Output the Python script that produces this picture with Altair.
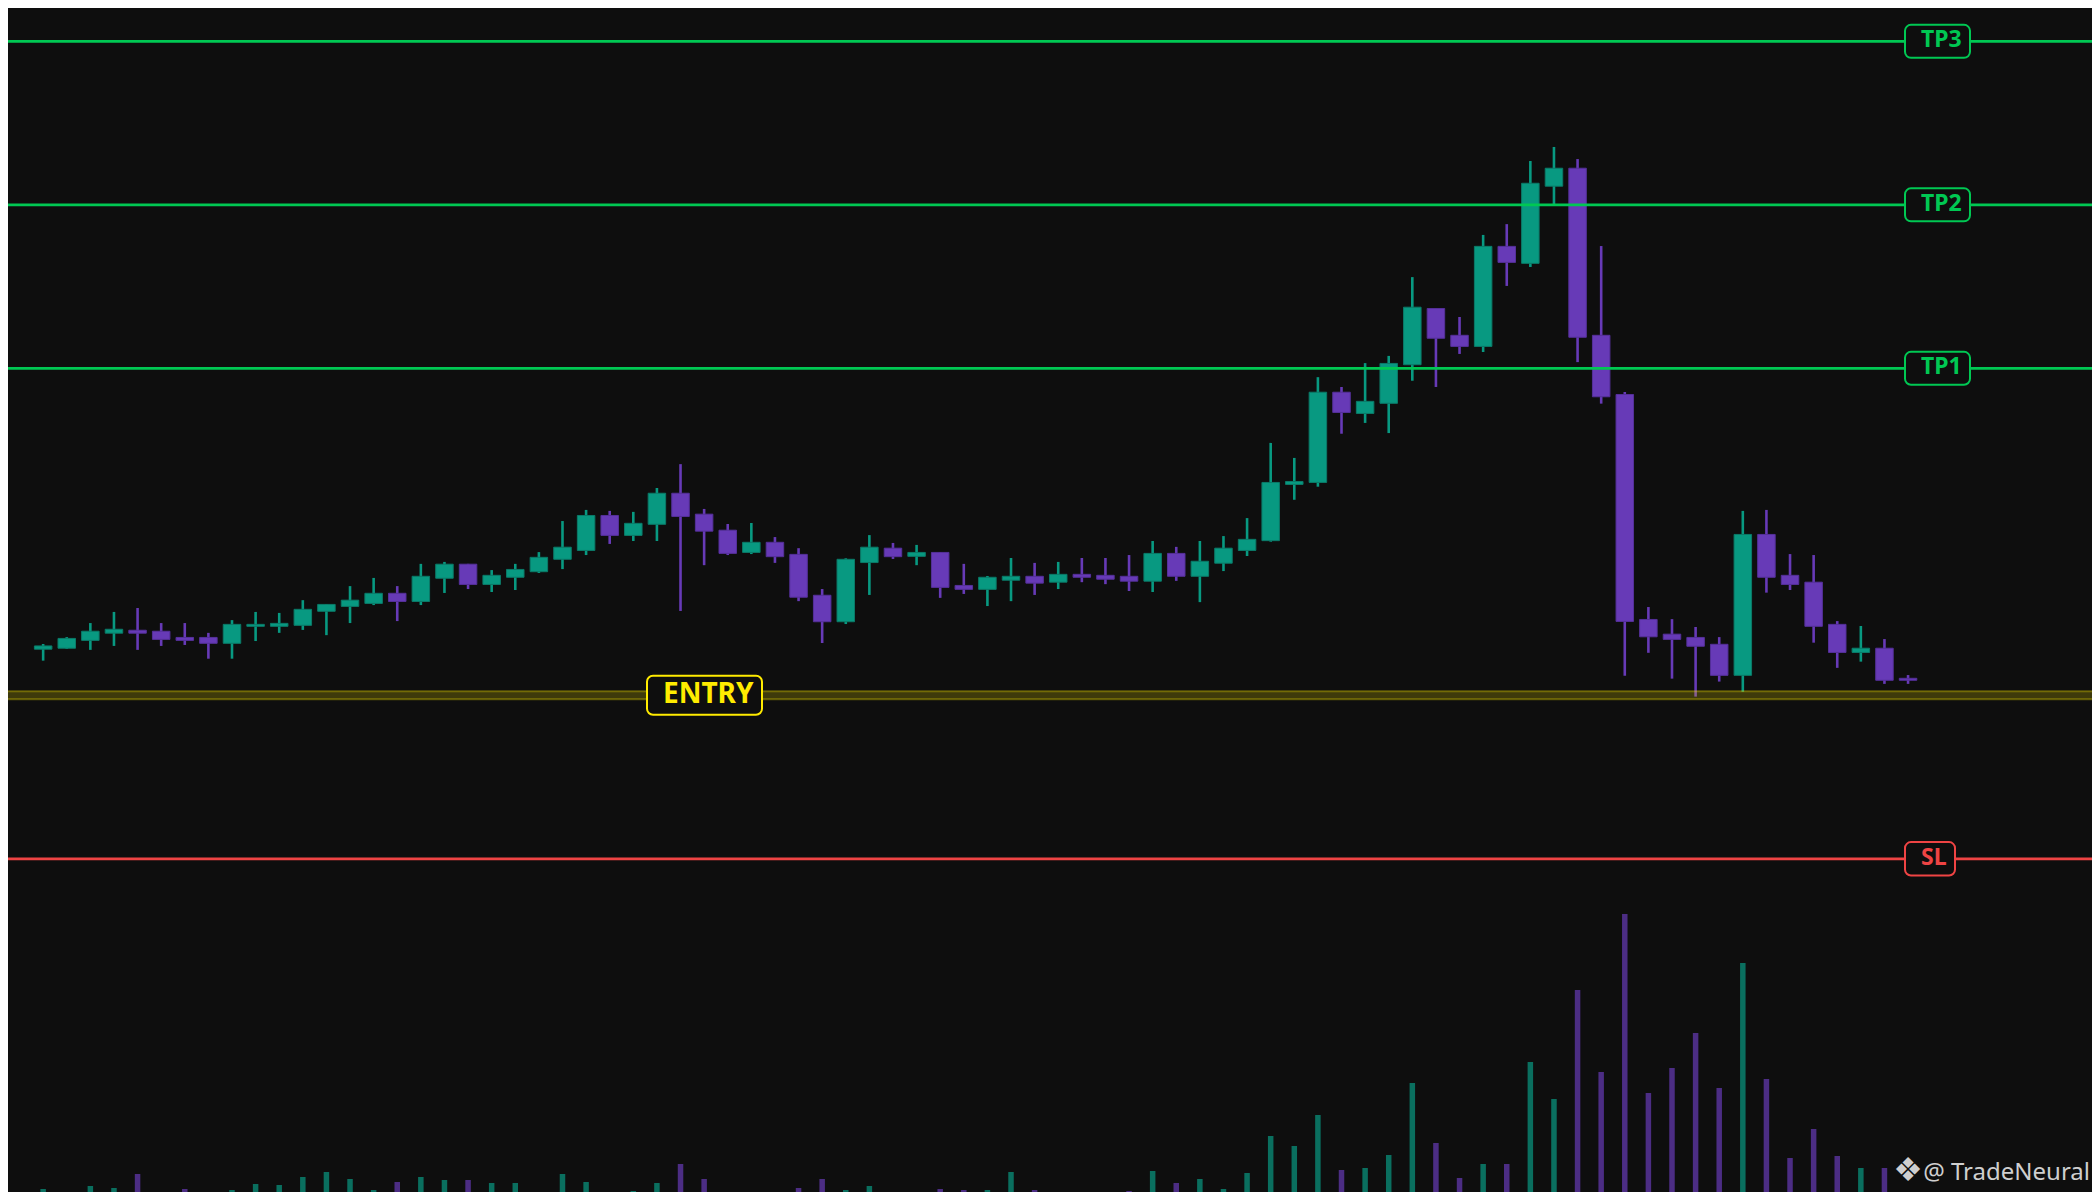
import altair as alt
import pandas as pd

# ---- candles (price units; entry = 100, 1R = 5) ----
open_ = [101.41, 101.44, 101.68, 101.90, 101.99, 101.96, 101.77, 101.77, 101.59, 102.11,
         102.11, 102.14, 102.57, 102.72, 102.81, 103.12, 102.87, 103.58, 104.01, 103.39,
         103.61, 103.78, 104.16, 104.43, 105.50, 104.89, 105.23, 106.18, 105.54, 105.05,
         104.37, 104.68, 104.31, 103.06, 102.25, 104.06, 104.50, 104.25, 104.37, 103.36,
         103.24, 103.52, 103.64, 103.46, 103.70, 103.67, 103.64, 103.49, 104.34, 103.64,
         104.04, 104.43, 104.73, 106.45, 106.51, 109.27, 108.62, 108.93, 110.11, 111.83,
         111.01, 110.67, 113.73, 113.21, 115.57, 116.12, 111.01, 109.20, 102.32, 101.87,
         101.77, 101.56, 100.61, 104.92, 103.67, 103.46, 102.17, 101.31, 101.44, 100.52]
high = [101.57, 101.78, 102.21, 102.55, 102.67, 102.21, 102.21, 101.91, 102.30, 102.55,
        102.52, 102.91, 102.79, 103.34, 103.59, 103.34, 104.02, 104.08, 104.02, 103.83,
        104.02, 104.38, 105.33, 105.67, 105.64, 105.61, 106.34, 107.07, 105.70, 105.24,
        105.27, 104.84, 104.50, 103.25, 104.19, 104.90, 104.66, 104.60, 104.38, 104.02,
        103.65, 104.20, 104.05, 104.08, 104.20, 104.20, 104.29, 104.72, 104.54, 104.72,
        104.87, 105.42, 107.72, 107.26, 109.73, 109.43, 110.16, 110.38, 112.79, 111.83,
        111.57, 114.08, 114.41, 116.34, 116.77, 116.40, 113.74, 109.28, 102.70, 102.33,
        102.09, 101.78, 105.64, 105.67, 104.32, 104.29, 102.27, 102.12, 101.72, 100.62]
low = [101.06, 101.42, 101.39, 101.51, 101.39, 101.51, 101.54, 101.12, 101.12, 101.66,
       101.91, 102.00, 101.84, 102.21, 102.76, 102.27, 102.76, 103.13, 103.25, 103.16,
       103.22, 103.74, 103.86, 104.29, 104.63, 104.72, 104.72, 102.58, 103.98, 104.29,
       104.32, 104.05, 102.88, 101.60, 102.18, 103.07, 104.17, 103.98, 102.98, 103.10,
       102.73, 102.88, 103.07, 103.25, 103.46, 103.40, 103.19, 103.16, 103.50, 102.85,
       103.80, 104.26, 104.70, 105.98, 106.38, 108.00, 108.33, 108.02, 109.62, 109.43,
       110.44, 110.50, 112.52, 113.10, 114.98, 110.19, 108.92, 100.60, 101.30, 100.51,
       99.96, 100.42, 100.11, 103.14, 103.22, 101.61, 100.84, 101.03, 100.35, 100.35]
close = [101.51, 101.74, 101.96, 102.02, 101.90, 101.71, 101.68, 101.59, 102.17, 102.17,
         102.20, 102.63, 102.78, 102.91, 103.12, 102.87, 103.64, 104.01, 103.39, 103.67,
         103.85, 104.22, 104.53, 105.50, 104.89, 105.26, 106.18, 105.47, 105.02, 104.34,
         104.68, 104.24, 103.00, 102.25, 104.16, 104.53, 104.24, 104.37, 103.30, 103.24,
         103.61, 103.64, 103.43, 103.70, 103.61, 103.55, 103.49, 104.34, 103.64, 104.10,
         104.50, 104.77, 106.51, 106.54, 109.27, 108.65, 108.99, 110.15, 111.87, 110.92,
         110.67, 113.73, 113.24, 115.66, 116.12, 110.95, 109.13, 102.26, 101.79, 101.71,
         101.50, 100.61, 104.92, 103.61, 103.39, 102.11, 101.31, 101.44, 100.46, 100.46]
# volume, thousands
volume = [110, 70, 140, 120, 260, 80, 110, 60, 100, 160,
          150, 230, 280, 210, 100, 180, 230, 200, 200, 170,
          170, 80, 260, 180, 80, 90, 170, 360, 210, 80,
          60, 80, 120, 210, 100, 140, 60, 80, 110, 100,
          100, 280, 100, 60, 60, 60, 90, 290, 170, 210,
          110, 270, 640, 540, 850, 300, 320, 450, 1170, 570,
          220, 360, 360, 1380, 1010, 2100, 1280, 2860, 1070, 1320,
          1670, 1120, 2370, 1210, 420, 710, 440, 320, 320, 20]

# trade levels
ENTRY = 100.0
STOP = 95.0
TP1, TP2, TP3 = 110.0, 115.0, 120.0

BG = "#0e0e0e"
UP = "#089981"
DOWN = "#673ab7"
UP_EDGE = "#0b7a68"
DOWN_EDGE = "#55309a"
TP_GREEN = "#00c853"
SL_RED = "#ef4444"
YELLOW = "#ffeb00"
GRAY = "#cfcfcf"

W, H = 2084, 1184
PX = 32.7  # pixels per price unit

X_SCALE = alt.Scale(domain=[-1.277, 86.58], nice=False, zero=False)
P_SCALE = alt.Scale(domain=[84.81, 121.02], nice=False, zero=False)
V_SCALE = alt.Scale(domain=[80, 11920], nice=False, zero=False)
DIR_COLOR = alt.Color("dir:N", scale=alt.Scale(domain=["up", "down"], range=[UP, DOWN]), legend=None)

df = pd.DataFrame({
    "i": list(range(len(close))),
    "open": open_, "high": high, "low": low, "close": close, "volume": volume,
})
df["dir"] = ["up" if c >= o else "down" for o, c in zip(open_, close)]

base = alt.Chart(df)
x_enc = alt.X("i:Q", scale=X_SCALE, axis=None)

vol_bars = base.mark_bar(size=5.5, opacity=0.7, clip=True).encode(
    x=x_enc,
    y=alt.Y("volume:Q", scale=V_SCALE, axis=None),
    y2=alt.datum(0),
    color=DIR_COLOR,
)

wicks = base.mark_rule(strokeWidth=2.6).encode(
    x=x_enc,
    y=alt.Y("low:Q", scale=P_SCALE, axis=None),
    y2="high:Q",
    color=DIR_COLOR,
)

bodies = base.mark_bar(size=17.5, strokeWidth=1).encode(
    x=x_enc,
    y=alt.Y("open:Q", scale=P_SCALE, axis=None),
    y2="close:Q",
    color=DIR_COLOR,
    stroke=alt.Stroke("dir:N", scale=alt.Scale(domain=["up", "down"], range=[UP_EDGE, DOWN_EDGE]), legend=None),
)

# entry zone band (dim fill with a brighter rim)
band_half = 4.0 / PX
entry_band = alt.Chart(pd.DataFrame({"hi": [ENTRY + band_half], "lo": [ENTRY - band_half]})).mark_rect(
    fill=YELLOW, fillOpacity=0.2, stroke=YELLOW, strokeOpacity=0.32, strokeWidth=2
).encode(
    x=alt.value(-2), x2=alt.value(W + 2),
    y=alt.Y("hi:Q", scale=P_SCALE, axis=None), y2="lo:Q",
)

tp_lines = alt.Chart(pd.DataFrame({"level": [TP1, TP2, TP3]})).mark_rule(
    color=TP_GREEN, strokeWidth=2.7
).encode(y=alt.Y("level:Q", scale=P_SCALE, axis=None))

sl_line = alt.Chart(pd.DataFrame({"level": [STOP]})).mark_rule(
    color=SL_RED, strokeWidth=2.8
).encode(y=alt.Y("level:Q", scale=P_SCALE, axis=None))


def tag(level, text, color, x0, x1, half_px, size, dy):
    row = pd.DataFrame({
        "level": [level],
        "top": [level + half_px / PX],
        "bottom": [level - half_px / PX],
        "text": [text],
    })
    box = alt.Chart(row).mark_rect(
        fill=BG, stroke=color, strokeWidth=2, cornerRadius=6
    ).encode(
        x=alt.value(x0), x2=alt.value(x1),
        y=alt.Y("top:Q", scale=P_SCALE, axis=None), y2="bottom:Q",
    )
    label = alt.Chart(row).mark_text(
        align="left", baseline="alphabetic", font="Noto Sans", fontWeight="bold",
        fontSize=size, color=color, dy=dy
    ).encode(
        x=alt.value(x0 + 16),
        y=alt.Y("level:Q", scale=P_SCALE, axis=None),
        text="text:N",
    )
    return box + label


tags = [
    tag(TP3, "TP3", TP_GREEN, 1897, 1962, 16.5, 23, 6),
    tag(TP2, "TP2", TP_GREEN, 1897, 1962, 16.5, 23, 6),
    tag(TP1, "TP1", TP_GREEN, 1897, 1962, 16.5, 23, 6),
    tag(STOP, "SL", SL_RED, 1897, 1947, 16.7, 23, 6),
    tag(ENTRY, "ENTRY", YELLOW, 639, 754, 19.5, 28, 8),
]

watermark = alt.Chart(pd.DataFrame({"t": ["@ TradeNeural"]})).mark_text(
    align="right", baseline="alphabetic", font="Noto Sans", fontSize=24, color=GRAY
).encode(x=alt.value(2082), y=alt.value(1172), text="t:N")

logo = alt.Chart(pd.DataFrame({"t": ["\u2756"]})).mark_text(
    align="center", baseline="middle", font="DejaVu Sans", fontSize=33, color=GRAY
).encode(x=alt.value(1900), y=alt.value(1163), text="t:N")

chart = (
    alt.layer(vol_bars, wicks, bodies, entry_band, tp_lines, sl_line, *tags, watermark, logo)
    .resolve_scale(y="independent")
    .properties(
        width=W, height=H, background=BG, padding=0,
        autosize=alt.AutoSizeParams(type="none"),
    )
    .configure_view(strokeWidth=0)
)

chart.save("out.html", embed_options={"renderer": "svg", "actions": False})
